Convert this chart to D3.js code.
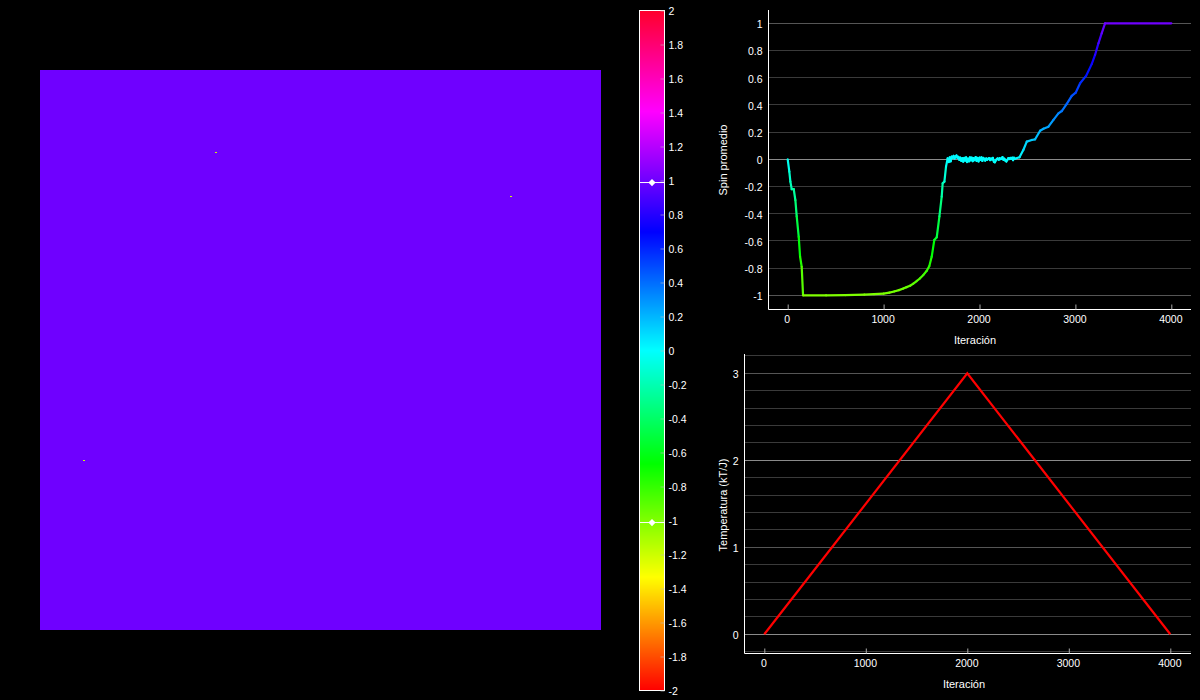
<!DOCTYPE html>
<html>
<head>
<meta charset="utf-8">
<script src="https://cdn.jsdelivr.net/npm/d3@7"></script>
<style>
  html, body { margin: 0; padding: 0; background: #000; overflow: hidden; }
  text { font-family: "Liberation Sans", sans-serif; font-size: 10.5px; fill: #fff; }
  .title { font-size: 11px; }
  .domain { stroke: #fff; }
  .grid line { shape-rendering: crispEdges; }
</style>
</head>
<body>
<svg id="chart" width="1200" height="700"></svg>
<script>
// Spin chart: iteration / average spin
const spinIter = [0, 17, 28, 42, 63, 80, 94, 115, 129, 146, 160, 400, 600, 800, 900, 1000, 1060, 1110, 1160, 1206, 1240, 1276, 1310, 1345, 1380, 1415, 1450, 1477, 1502, 1529, 1554, 1582, 1606, 1616, 1634, 1651, 1668];
const spinVal = [0, -0.09, -0.164, -0.22, -0.22, -0.30, -0.42, -0.57, -0.715, -0.79, -1, -1, -0.998, -0.995, -0.992, -0.988, -0.98, -0.972, -0.962, -0.95, -0.94, -0.93, -0.914, -0.895, -0.875, -0.85, -0.82, -0.785, -0.715, -0.593, -0.574, -0.42, -0.275, -0.176, -0.164, -0.054, 0.007];
// plateau around zero, one value every 10 iterations starting at 1680
const plateauStart = 1680;
const plateauVal = [-0.02, 0.015, -0.015, 0.02, 0.01, 0.025, 0.005, 0.02, 0.028, 0.01, 0.018, -0.005, 0.012, -0.012, 0.008, -0.018, 0.01, -0.01, 0.015, -0.02, 0.005, -0.015, 0.014, -0.008, 0.012, -0.014, 0.008, -0.006, 0.016, -0.012, 0.01, -0.016, 0.012, -0.004, 0.014, -0.012, 0.01, 0.002, -0.01, 0.006, -0.004, 0.004, 0.008, -0.006, 0.006, -0.002, 0.01, -0.018, -0.022, -0.008, 0.002, 0.006, -0.004, 0.008, 0.002, 0.006, 0.016, -0.004, 0.004, -0.01, -0.016, -0.004, 0.008, 0.002, 0.01, 0.004, 0.012, -0.006, 0.012, 0.004];
const riseIter = [2417, 2458, 2493, 2545, 2580, 2632, 2667, 2719, 2771, 2823, 2858, 2910, 2962, 3003, 3049, 3111, 3170, 3205, 3240, 3274, 3309, 4000];
const riseVal = [0.015, 0.07, 0.13, 0.142, 0.147, 0.21, 0.225, 0.24, 0.29, 0.338, 0.355, 0.407, 0.466, 0.49, 0.559, 0.613, 0.70, 0.767, 0.853, 0.926, 1, 1];

// Temperature chart
const tempIter = [0, 2000, 4000];
const tempVal = [0, 3, 0];

// Lattice: uniform spin plus the few flipped cells
const latticeCols = 280;
const latticeRows = 560;
const latticeSpin = 1;
const flippedCol = [87.5, 234.5, 21.5];
const flippedRow = [82, 126, 390];
const flippedSpin = [-1.2, -1.2, -1.2];

// Colour bar
const barTicks = [2, 1.8, 1.6, 1.4, 1.2, 1, 0.8, 0.6, 0.4, 0.2, 0, -0.2, -0.4, -0.6, -0.8, -1, -1.2, -1.4, -1.6, -1.8, -2];
const sliderVal = [0.988, -1.012];
const hueStops = [-2, 0, 1, 2];
const hueValues = [0, 180, 266, 350];

const spinTicks = [-1, -0.8, -0.6, -0.4, -0.2, 0, 0.2, 0.4, 0.6, 0.8, 1];
const tempLabels = [0, 1, 2, 3];
const tempGrid = [-0.2, 0, 0.2, 0.4, 0.6, 0.8, 1, 1.2, 1.4, 1.6, 1.8, 2, 2.2, 2.4, 2.6, 2.8, 3, 3.2];
const iterTicks = [0, 1000, 2000, 3000, 4000];

const svg = d3.select("#chart");

const hueScale = d3.scaleLinear().domain(hueStops).range(hueValues);
function spinColor(v) {
  return d3.hsl(hueScale(v), 1, 0.5).formatHex();
}

// ---- lattice ----
const mapX = d3.scaleLinear().domain([0, latticeCols]).range([40, 601]);
const mapY = d3.scaleLinear().domain([0, latticeRows]).range([70, 630]);
const map = svg.append("g");
map.append("rect")
  .attr("x", mapX(0)).attr("y", mapY(0))
  .attr("width", mapX(latticeCols) - mapX(0))
  .attr("height", mapY(latticeRows) - mapY(0))
  .attr("fill", spinColor(latticeSpin));
map.selectAll(".cell").data(flippedCol).enter().append("rect")
  .attr("class", "cell")
  .attr("x", d => mapX(d))
  .attr("y", (d, i) => mapY(flippedRow[i]))
  .attr("width", mapX(1) - mapX(0))
  .attr("height", mapY(1) - mapY(0))
  .attr("shape-rendering", "crispEdges")
  .attr("fill", (d, i) => spinColor(flippedSpin[i]));

// ---- colour bar ----
const barY = d3.scaleLinear().domain([2, -2]).range([10.5, 690.5]);
const barLeft = 639.5, barRight = 664.5;
const bar = svg.append("g");
const bands = d3.range(11, 691, 1);
bar.selectAll(".band").data(bands).enter().append("rect")
  .attr("class", "band")
  .attr("x", barLeft).attr("width", barRight - barLeft)
  .attr("y", d => d).attr("height", 1)
  .attr("shape-rendering", "crispEdges")
  .attr("fill", d => spinColor(barY.invert(d + 0.5)));
bar.append("rect")
  .attr("x", barLeft).attr("y", barY(2))
  .attr("width", barRight - barLeft).attr("height", barY(-2) - barY(2))
  .attr("fill", "none").attr("stroke", "#fff");
const barAxis = bar.append("g")
  .attr("transform", `translate(${barRight},0)`)
  .call(d3.axisRight(barY).tickValues(barTicks).tickFormat(d => String(d)).tickSize(-4).tickPadding(4));
barAxis.select(".domain").remove();
barAxis.selectAll("line").attr("stroke", "#bbb").attr("stroke-opacity", 0.6);
barAxis.selectAll("text").attr("fill", "#fff").attr("y", 1);
// the two level sliders
sliderVal.forEach(v => {
  bar.append("line")
    .attr("x1", barLeft).attr("x2", barRight)
    .attr("y1", barY(v)).attr("y2", barY(v))
    .attr("stroke", "#fff");
  bar.append("path")
    .attr("d", d3.symbol(d3.symbolSquare, 26)())
    .attr("transform", `translate(${(barLeft + barRight) / 2},${barY(v)}) rotate(45)`)
    .attr("fill", "#fff");
});

// shared axes helper for the two plots
function plotFrame(x, y, opts) {
  const g = svg.append("g");
  const grid = g.append("g").attr("class", "grid");
  grid.selectAll("line").data(opts.grid).enter().append("line")
    .attr("x1", opts.left).attr("x2", opts.right)
    .attr("y1", d => y(d)).attr("y2", d => y(d))
    .attr("stroke", d => opts.strong.includes(d) ? "#8a8a8a" : (opts.medium.includes(d) ? "#555" : "#3a3a3a"));

  const xAxis = g.append("g")
    .attr("transform", `translate(0,${opts.bottom})`)
    .call(d3.axisBottom(x).tickValues(iterTicks).tickFormat(d3.format("d")).tickSize(-5).tickPadding(6));
  xAxis.select(".domain").attr("d", `M${opts.left},0H${opts.right}`);
  xAxis.selectAll("line").attr("stroke", "#aaa");
  xAxis.selectAll("text").attr("fill", "#fff").attr("dx", -1);

  const yAxis = g.append("g")
    .attr("transform", `translate(${opts.left},0)`)
    .call(d3.axisLeft(y).tickValues(opts.labels).tickFormat(d => String(d)).tickSize(0).tickPadding(6));
  yAxis.select(".domain").attr("d", `M0,${opts.top}V${opts.bottom}`);
  yAxis.selectAll("text").attr("fill", "#fff").attr("y", 1);

  g.append("text")
    .attr("class", "title")
    .attr("x", opts.xTitleX).attr("y", opts.bottom + 34)
    .attr("text-anchor", "middle").text("Iteración");
  g.append("text")
    .attr("class", "title")
    .attr("transform", `translate(${opts.yTitleX},${opts.yTitleY}) rotate(-90)`)
    .attr("text-anchor", "middle").text(opts.yTitle);
  return g;
}

// ---- spin plot ----
const spinX = d3.scaleLinear().domain([0, 4000]).range([787.7, 1171.3]);
const spinY = d3.scaleLinear().domain([-1, 1]).range([295.3, 23.3]);
const spinPlot = plotFrame(spinX, spinY, {
  left: 768.5, right: 1191, top: 10, bottom: 309.5,
  grid: spinTicks, labels: spinTicks, strong: [0], medium: [1, -1],
  xTitleX: 975, yTitleX: 727, yTitleY: 160, yTitle: "Spin promedio"
});

const spinPts = spinIter.map((d, i) => [d, spinVal[i]])
  .concat(plateauVal.map((v, i) => [plateauStart + i * 10, v]))
  .concat(riseIter.map((d, i) => [d, riseVal[i]]));
const spinLine = d3.line().x(d => spinX(d[0])).y(d => spinY(d[1]));
// one short path per step so the colour can follow the value
spinPlot.selectAll(".seg").data(d3.pairs(spinPts)).enter().append("path")
  .attr("class", "seg")
  .attr("d", d => spinLine(d))
  .attr("fill", "none")
  .attr("stroke", d => spinColor((d[0][1] + d[1][1]) / 2))
  .attr("stroke-width", 2.2)
  .attr("stroke-linecap", "round");

// ---- temperature plot ----
const tempX = d3.scaleLinear().domain([0, 4000]).range([764.3, 1170.3]);
const tempY = d3.scaleLinear().domain([0, 3]).range([634.3, 373.3]);
const tempPlot = plotFrame(tempX, tempY, {
  left: 744.5, right: 1191, top: 354, bottom: 653.5,
  grid: tempGrid, labels: tempLabels, strong: [0, 2], medium: [1, 3],
  xTitleX: 964, yTitleX: 727, yTitleY: 505, yTitle: "Temperatura (kT/J)"
});
tempPlot.append("path")
  .datum(tempIter.map((d, i) => [d, tempVal[i]]))
  .attr("d", d3.line().x(d => tempX(d[0])).y(d => tempY(d[1])))
  .attr("fill", "none")
  .attr("stroke", "#f00")
  .attr("stroke-width", 2.2);
</script>
</body>
</html>
